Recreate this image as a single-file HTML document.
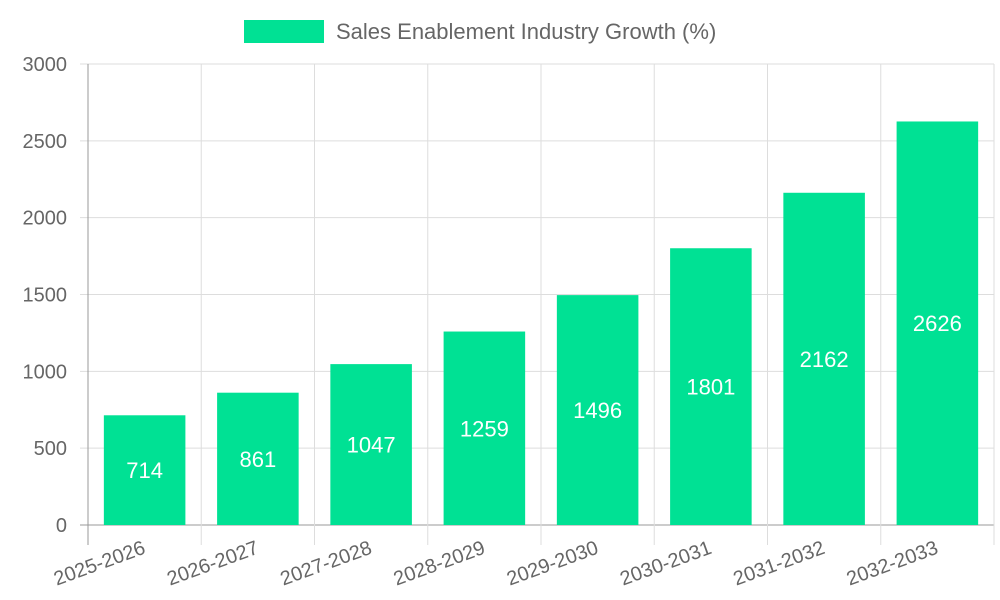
<!DOCTYPE html>
<html><head><meta charset="utf-8"><style>
body{margin:0;background:#fff;}
svg{display:block;font-family:"Liberation Sans",sans-serif;}
</style></head><body>
<svg id="chart" width="1000" height="600">
<g id="legend">
<rect x="244" y="20" width="80" height="23" fill="#00e194"></rect>
<text x="336" y="39" font-size="22" fill="#666">Sales Enablement Industry Growth (%)</text>
</g>
<g id="grid"></g><g id="bars"></g><g id="axes"></g>
</svg>
<script>
const categories=["2025-2026","2026-2027","2027-2028","2028-2029","2029-2030","2030-2031","2031-2032","2032-2033"];
const values=[714,861,1047,1259,1496,1801,2162,2626];
const yTicks=[0,500,1000,1500,2000,2500,3000];
const NS="http://www.w3.org/2000/svg";
const L=88,R=994,T=64,B=525,yMax=3000;
const bw=(R-L)/categories.length;
const y=v=>B-(v/yMax)*(B-T);
const x=i=>L+bw*i;
function mk(tag,attrs,parent,text){const e=document.createElementNS(NS,tag);for(const k in attrs)e.setAttribute(k,attrs[k]);if(text!==undefined)e.textContent=text;document.getElementById(parent).appendChild(e);return e;}
yTicks.forEach(t=>{
 const g=mk('line',{x1:80,x2:R,y1:y(t),y2:y(t),stroke:t===0?'#999':'#ddd','stroke-width':1},'grid');
 
 
 const lb=mk('text',{x:67,y:y(t)+7,'text-anchor':'end','font-size':20,fill:'#666'},'axes',t);
 
 
});
for(let i=0;i<=categories.length;i++){
 const g=mk('line',{x1:x(i),x2:x(i),y1:T,y2:B+20,stroke:i===0?'#999':'#ddd','stroke-width':1},'grid');
 
 
}
categories.forEach((c,i)=>{
 const cx=x(i)+bw/2,w=bw*0.72;
 const r=mk('rect',{x:cx-w/2,y:y(values[i]),width:w,height:B-y(values[i]),fill:'#00e194'},'bars');
 
 
 const v=mk('text',{x:cx,y:(y(values[i])+B)/2+8,'text-anchor':'middle','font-size':22,fill:'#fff'},'bars',values[i]);
 
 
 const lb=mk('text',{x:0,y:0,'text-anchor':'end','font-size':20,fill:'#666',transform:`translate(${cx+2},${B+28}) rotate(-20)`},'axes',c);
 
 
});
</script>
</body></html>
